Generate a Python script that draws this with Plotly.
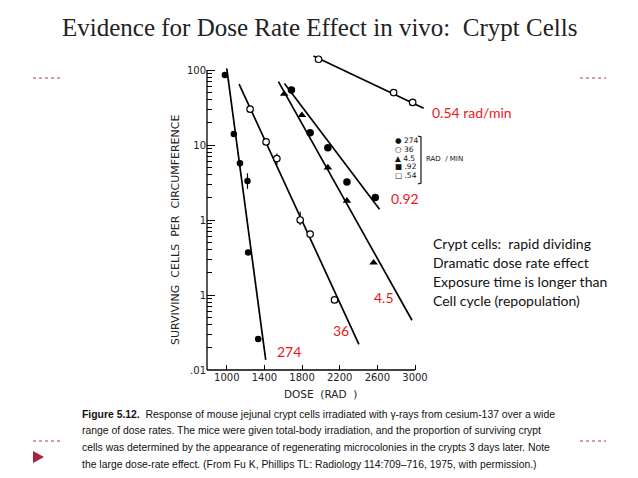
import math
import plotly.graph_objects as go

# ---------------- data ----------------
dose_274 = [980, 1075, 1140, 1220, 1227, 1334]
surv_274 = [86, 14, 5.7, 3.3, 0.37, 0.026]
err_up_274 = [0, 0, 0, 0.9, 0, 0]
err_dn_274 = [0, 0, 0, 0.7, 0, 0]

dose_36 = [1248, 1418, 1532, 1780, 1886, 2145]
surv_36 = [30, 11, 6.6, 1.0, 0.65, 0.086]
err_up_36 = [0, 0, 1.1, 0.29, 0, 0]
err_dn_36 = [0, 0, 1.2, 0.14, 0, 0]

dose_45 = [1610, 1798, 2074, 2277, 2560]
surv_45 = [48, 25, 5.0, 1.8, 0.27]

dose_092 = [1687, 1886, 2074, 2277, 2578]
surv_092 = [54, 14.6, 9.2, 3.2, 2.0]

dose_054 = [1975, 2773, 2975]
surv_054 = [139, 50, 37]

# fitted lines (end points: dose, survival)
fit_274 = ([1000, 1414], [105, 0.0136])
fit_36 = ([1131, 2404], [65, 0.022])
fit_45 = ([1549, 2968], [70, 0.046])
fit_092 = ([1613, 2623], [66, 1.39])
fit_054 = ([1921, 3092], [154, 31])

legend_labels = ["274", "36", "4.5", ".92", ".54"]
legend_symbols = ["●", "○", "▲", "■", "□"]

y_tickvals = [0.01, 0.1, 1, 10, 100]
y_ticktext = [".01", "1", "1", "10", "100"]
x_tickvals = [1000, 1400, 1800, 2200, 2600, 3000]

red_labels = ["0.54 rad/min", "0.92", "4.5", "36", "274"]
notes = ["Crypt cells:  rapid dividing", "Dramatic dose rate effect",
         "Exposure time is longer than", "Cell cycle (repopulation)"]

caption_lines = [
    "<b>Figure 5.12.</b>  Response of mouse jejunal crypt cells irradiated with γ-rays from cesium-137 over a wide",
    "range of dose rates. The mice were given total-body irradiation, and the proportion of surviving crypt",
    "cells was determined by the appearance of regenerating microcolonies in the crypts 3 days later. Note",
    "the large dose-rate effect. (From Fu K, Phillips TL: Radiology 114:709–716, 1975, with permission.)",
]

# ---------------- layout geometry ----------------
W, H = 638, 478
ML, MT, PW, PH = 207, 55, 224, 315
X0, X1 = 790, 3170
Y0, Y1 = -2.0, 2.2


def px(x):
    return (x - ML) / PW


def py(y):
    return 1 - (y - MT) / PH


def xp(d):
    return (d - X0) / (X1 - X0)


def yp(v):
    return (math.log10(v) - Y0) / (Y1 - Y0)


fig = go.Figure()

LINE = dict(color="black", width=1.7)
for xs, ys in [fit_274, fit_36, fit_45, fit_092, fit_054]:
    fig.add_trace(go.Scatter(x=xs, y=ys, mode="lines", line=LINE,
                             hoverinfo="skip", showlegend=False))

fig.add_trace(go.Scatter(x=dose_274, y=surv_274, mode="markers",
                         marker=dict(symbol="circle", size=6.5, color="black"),
                         error_y=dict(type="data", array=err_up_274, arrayminus=err_dn_274,
                                      width=0, thickness=1.2, color="black"),
                         showlegend=False))
fig.add_trace(go.Scatter(x=dose_36, y=surv_36, mode="markers",
                         marker=dict(symbol="circle", size=6.5, color="white",
                                     line=dict(color="black", width=1.2)),
                         error_y=dict(type="data", array=err_up_36, arrayminus=err_dn_36,
                                      width=0, thickness=1.2, color="black"),
                         showlegend=False))
fig.add_trace(go.Scatter(x=dose_45, y=surv_45, mode="markers",
                         marker=dict(symbol="triangle-up", size=7.5, color="black"),
                         showlegend=False))
fig.add_trace(go.Scatter(x=dose_092, y=surv_092, mode="markers",
                         marker=dict(symbol="circle", size=7.5, color="black"),
                         showlegend=False))
fig.add_trace(go.Scatter(x=dose_054, y=surv_054, mode="markers",
                         marker=dict(symbol="circle", size=6.5, color="white",
                                     line=dict(color="black", width=1.2)),
                         showlegend=False))

# minor log ticks
minor_vals = [m * 10 ** e for e in range(-2, 2) for m in range(2, 10)]

fig.update_xaxes(type="linear", range=[X0, X1], showline=False, showgrid=False,
                 zeroline=False, tickvals=x_tickvals, ticks="inside", ticklen=5,
                 tickwidth=1, tickcolor="black",
                 tickfont=dict(family="DejaVu Sans", size=10, color="#222"))
fig.update_yaxes(type="log", range=[Y0, Y1], showline=False, showgrid=False,
                 zeroline=False, tickvals=y_tickvals, ticktext=y_ticktext,
                 ticks="inside", ticklen=8, tickwidth=1, tickcolor="black",
                 tickfont=dict(family="DejaVu Sans", size=10, color="#222"),
                 minor=dict(tickvals=minor_vals, ticks="inside", ticklen=5,
                            tickwidth=1, tickcolor="black", showgrid=False))

shapes = []
# axis lines
shapes.append(dict(type="line", xref="paper", yref="paper", x0=0, x1=0,
                   y0=yp(0.01), y1=yp(100), line=dict(color="black", width=1.3)))
shapes.append(dict(type="line", xref="paper", yref="paper", x0=0, x1=xp(3000),
                   y0=yp(0.01), y1=yp(0.01), line=dict(color="black", width=1.3)))
# legend bracket
shapes.append(dict(type="path", xref="paper", yref="paper",
                   path=f"M {px(418)} {py(136)} L {px(421)} {py(137)} L {px(421)} {py(183)} L {px(418)} {py(184)}",
                   line=dict(color="black", width=1.1)))
# slide decorations
DEC = dict(color="#b23a48", width=1.2, dash="3px,3px")
for (xa, xb, yy) in [(33, 62, 78), (580, 606, 78), (33, 60, 441), (580, 606, 441)]:
    shapes.append(dict(type="line", xref="paper", yref="paper", x0=px(xa), x1=px(xb),
                       y0=py(yy), y1=py(yy), line=DEC))
shapes.append(dict(type="path", xref="paper", yref="paper",
                   path=f"M {px(33)} {py(451)} L {px(44)} {py(457)} L {px(33)} {py(463)} Z",
                   fillcolor="#a3243b", line=dict(width=0)))

ann = []
# title
ann.append(dict(text="Evidence for Dose Rate Effect in vivo:  Crypt Cells", x=px(319), y=py(27),
                xref="paper", yref="paper", showarrow=False, xanchor="center", yanchor="middle",
                font=dict(family="Liberation Serif", size=25, color="#222")))
# axis titles
ann.append(dict(text="SURVIVING  CELLS  PER  CIRCUMFERENCE", x=px(175), y=py(230),
                xref="paper", yref="paper", showarrow=False, textangle=-90,
                xanchor="center", yanchor="middle",
                font=dict(family="DejaVu Sans", size=11, color="#222")))
ann.append(dict(text="DOSE  (RAD  )", x=px(320), y=py(394), xref="paper", yref="paper",
                showarrow=False, xanchor="center", yanchor="middle",
                font=dict(family="DejaVu Sans", size=10.5, color="#222")))
# legend
for i, (s, lab) in enumerate(zip(legend_symbols, legend_labels)):
    yy = 141 + i * 8.5
    ann.append(dict(text=f"{s} {lab}", x=px(393), y=py(yy), xref="paper", yref="paper",
                    showarrow=False, xanchor="left", yanchor="middle",
                    font=dict(family="DejaVu Sans", size=7.5, color="#111")))
ann.append(dict(text="RAD  / MIN", x=px(424), y=py(159), xref="paper", yref="paper",
                showarrow=False, xanchor="left", yanchor="middle",
                font=dict(family="DejaVu Sans", size=7, color="#111")))
# red labels
red_pos = [(430, 112), (389, 199), (372, 297), (331, 330), (275, 351)]
for t, (xx, yy) in zip(red_labels, red_pos):
    ann.append(dict(text=t, x=px(xx), y=py(yy), xref="paper", yref="paper",
                    showarrow=False, xanchor="left", yanchor="middle",
                    font=dict(family="Lato", size=14, color="#e8191b")))
# notes
for i, t in enumerate(notes):
    ann.append(dict(text=t, x=px(431), y=py(243 + i * 19.3), xref="paper", yref="paper",
                    showarrow=False, xanchor="left", yanchor="middle",
                    font=dict(family="Lato", size=14, color="#111")))
# caption
for i, t in enumerate(caption_lines):
    ann.append(dict(text=t, x=px(80), y=py(414 + i * 16.8), xref="paper", yref="paper",
                    showarrow=False, xanchor="left", yanchor="middle", align="left",
                    font=dict(family="Liberation Sans", size=10.4, color="#111")))

fig.update_layout(width=W, height=H, margin=dict(l=ML, r=W - ML - PW, t=MT, b=H - MT - PH),
                  paper_bgcolor="white", plot_bgcolor="white", shapes=shapes, annotations=ann,
                  showlegend=False)

fig.write_html("out.html")
